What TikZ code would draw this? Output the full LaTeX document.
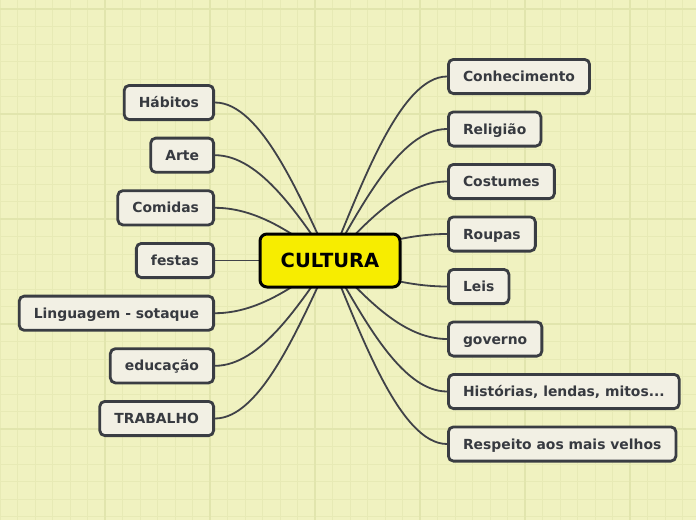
\documentclass[tikz,border=0pt]{standalone}
\usepackage{fontspec}
\setmainfont{DejaVu Sans}
\definecolor{paper}{RGB}{240,242,192}
\definecolor{gridmin}{RGB}{231,234,181}
\definecolor{gridmaj}{RGB}{225,229,173}
\definecolor{boxfill}{RGB}{242,240,228}
\definecolor{boxline}{RGB}{58,61,67}
\definecolor{boxtext}{RGB}{55,58,64}
\definecolor{linkcol}{RGB}{64,66,72}
\definecolor{rootfill}{RGB}{247,237,0}
\begin{document}
\begin{tikzpicture}[x=1pt,y=-1pt,
  topic/.style={draw=boxline, fill=boxfill, line width=2.8pt, rounded corners=5pt,
    text=boxtext, font=\fontsize{13.9}{16}\selectfont\bfseries,
    inner xsep=14.6pt, inner ysep=12.1pt, text height=10pt, text depth=0pt},
  root/.style={draw=black, fill=rootfill, line width=3pt, rounded corners=7pt,
    text=black, font=\fontsize{19.5}{22}\selectfont\bfseries,
    minimum width=140pt, minimum height=53pt, text height=14pt, text depth=0pt},
  link/.style={draw=linkcol, line width=1.8pt},
  gridminor/.style={draw=gridmin, line width=1pt},
  gridmajor/.style={draw=gridmaj, line width=1.2pt}]
\useasboundingbox (0,0) rectangle (696,520);
% paper
\fill[paper] (0,0) rectangle (696,520);
\foreach \gx in {0,17.5,...,696} \draw[gridminor] (\gx,0) -- (\gx,520);
\foreach \gy in {9,26.5,...,520} \draw[gridminor] (0,\gy) -- (696,\gy);
\foreach \gx in {105,210,...,630} \draw[gridmajor] (\gx,0) -- (\gx,520);
\foreach \gy in {9,114,...,520} \draw[gridmajor] (0,\gy) -- (696,\gy);
\coordinate (c) at (330,260.5);
% left branch
\node[topic, anchor=east] (hab) at (215,102.5) {Hábitos};
\node[topic, anchor=east] (arte) at (215,155.2) {Arte};
\node[topic, anchor=east] (com) at (215,207.8) {Comidas};
\node[topic, anchor=east] (fest) at (215,260.5) {festas};
\node[topic, anchor=east] (ling) at (215,313.2) {Linguagem - sotaque};
\node[topic, anchor=east] (edu) at (215,365.8) {educação};
\node[topic, anchor=east] (trab) at (215,418.5) {TRABALHO};
% right branch
\node[topic, anchor=west] (conh) at (447,76.5) {Conhecimento};
\node[topic, anchor=west] (rel) at (447,129) {Religião};
\node[topic, anchor=west] (cost) at (447,181.5) {Costumes};
\node[topic, anchor=west] (roup) at (447,234) {Roupas};
\node[topic, anchor=west] (leis) at (447,286.5) {Leis};
\node[topic, anchor=west] (gov) at (447,339) {governo};
\node[topic, anchor=west] (hist) at (447,391.5) {Histórias, lendas, mitos...};
\node[topic, anchor=west] (resp) at (447,444) {Respeito aos mais velhos};
% connectors
\draw[link] (c) .. controls +(-30,-63.2) and +(46,0) .. (hab.east);
\draw[link] (c) .. controls +(-30,-42.1) and +(46,0) .. (arte.east);
\draw[link] (c) .. controls +(-30,-21.1) and +(46,0) .. (com.east);
\draw[link] (c) -- (fest.east);
\draw[link] (c) .. controls +(-30,21.1) and +(46,0) .. (ling.east);
\draw[link] (c) .. controls +(-30,42.1) and +(46,0) .. (edu.east);
\draw[link] (c) .. controls +(-30,63.2) and +(46,0) .. (trab.east);
\draw[link] (c) .. controls +(31,-73.6) and +(-47,0) .. (conh.west);
\draw[link] (c) .. controls +(31,-52.6) and +(-47,0) .. (rel.west);
\draw[link] (c) .. controls +(31,-31.6) and +(-47,0) .. (cost.west);
\draw[link] (c) .. controls +(31,-10.6) and +(-47,0) .. (roup.west);
\draw[link] (c) .. controls +(31,10.4) and +(-47,0) .. (leis.west);
\draw[link] (c) .. controls +(31,31.4) and +(-47,0) .. (gov.west);
\draw[link] (c) .. controls +(31,52.4) and +(-47,0) .. (hist.west);
\draw[link] (c) .. controls +(31,73.4) and +(-47,0) .. (resp.west);
% central topic
\node[root] (cult) at (c) {CULTURA};
\end{tikzpicture}
\end{document}
